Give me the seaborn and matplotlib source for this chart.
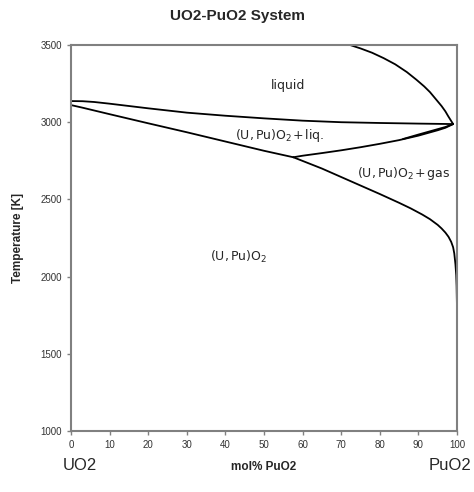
import matplotlib
matplotlib.use('Agg')
import matplotlib.pyplot as plt
import seaborn as sns

# phase boundary curves (mol% PuO2, temperature K)
liquidus_x = [0, 3, 6, 10, 15, 20, 30, 40, 50, 60, 70, 80, 90, 99]
liquidus_t = [3137, 3136, 3131, 3120, 3105, 3090, 3062, 3042, 3025, 3010, 3000, 2995, 2991, 2988]

solidus_x = [0, 3, 6, 10, 20, 30, 40, 50, 57.6]
solidus_t = [3111, 3094, 3076, 3052, 2993, 2935, 2875, 2815, 2773]

liqgas_x = [57.6, 60, 65, 70, 75, 80, 85, 90, 93, 95, 97, 99]
liqgas_t = [2773, 2783, 2800, 2818, 2838, 2860, 2884, 2913, 2934, 2948, 2964, 2988]

liqgas2_x = [86, 90, 93, 95, 97, 99]
liqgas2_t = [2891, 2920, 2941, 2955, 2969, 2988]

gas_x = [57.6, 65, 70, 75, 80, 85, 88, 91, 93, 95, 96, 97, 97.8, 98.5, 99,
         99.3, 99.6, 99.8, 99.9, 100]
gas_t = [2773, 2700, 2645, 2590, 2535, 2478, 2442, 2402, 2372, 2335, 2312, 2285,
         2258, 2225, 2190, 2150, 2080, 2010, 1940, 1800]

vap_x = [72.3, 75, 78, 81, 84, 87, 89.5, 91.5, 93, 94.7, 96, 97, 97.7, 98.4, 99]
vap_t = [3500, 3478, 3450, 3415, 3375, 3325, 3275, 3232, 3195, 3144, 3105, 3070,
         3040, 3012, 2988]

curves = [(liquidus_x, liquidus_t), (solidus_x, solidus_t), (liqgas_x, liqgas_t),
          (liqgas2_x, liqgas2_t), (gas_x, gas_t), (vap_x, vap_t)]

sns.set_style('white')
plt.rcParams['font.family'] = ['Liberation Sans', 'DejaVu Sans']

fig = plt.figure(figsize=(4.74, 4.92), dpi=100)
ax = fig.add_axes([0.1498, 0.124, 0.8143, 0.7845])

for cx, ct in curves:
    sns.lineplot(x=cx, y=ct, sort=False, color='black', lw=1.3, ax=ax)

ax.set_xlim(0, 100)
ax.set_ylim(1000, 3500)
ax.set_xticks(range(0, 101, 10))
ax.set_yticks(range(1000, 3501, 500))
ax.tick_params(axis='both', labelsize=7, colors='#808080', labelcolor='#333333',
               length=3, width=1, direction='out', bottom=True, left=True)
for s in ax.spines.values():
    s.set_color('#808080')
    s.set_linewidth(1.5)

ax.set_xlabel('mol% PuO2', fontsize=8.5, fontweight='bold', labelpad=8)
ax.set_ylabel('Temperature [K]', fontsize=8.5, fontweight='bold', labelpad=12)
fig.suptitle('UO2-PuO2 System', fontsize=11, fontweight='bold', x=0.5, y=0.967, va='center')

fig.text(80 / 474, 1 - 465 / 492, 'UO2', fontsize=12, ha='center', va='center')
fig.text(450 / 474, 1 - 465 / 492, 'PuO2', fontsize=12, ha='center', va='center')

lab = dict(fontsize=9, ha='center', va='center', family=['DejaVu Sans'])
ax.text(56.2, 3235, 'liquid', **lab)
ax.text(54.1, 2911, r'$(\mathrm{U,Pu})\mathrm{O}_2\!+\mathrm{liq.}$', **lab)
ax.text(86.1, 2665, r'$(\mathrm{U,Pu})\mathrm{O}_2\!+\mathrm{gas}$', **lab)
ax.text(43.5, 2130, r'$(\mathrm{U,Pu})\mathrm{O}_2$', **lab)

fig.savefig('out.png', dpi=100)
